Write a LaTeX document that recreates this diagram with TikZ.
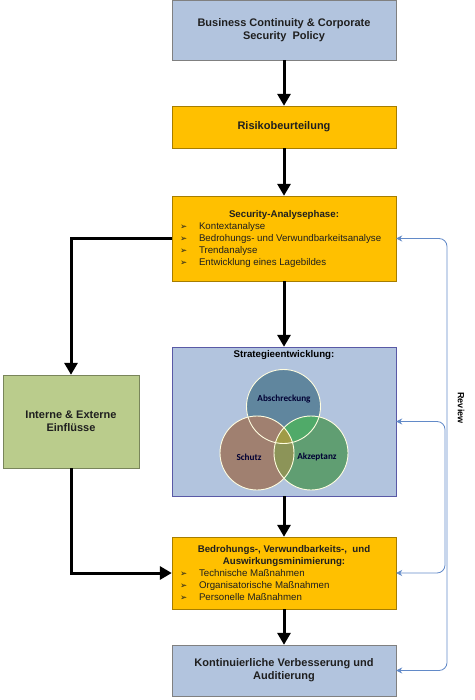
\documentclass[tikz,border=0pt]{standalone}
\usepackage{fontspec}
\setmainfont{Liberation Sans}
\newfontfamily\calfont{Carlito}
\newfontfamily\symfont{DejaVu Sans}
\usetikzlibrary{arrows.meta}
\definecolor{polblue}{RGB}{178,196,222}
\definecolor{riskorange}{RGB}{255,192,0}
\definecolor{inflgreen}{RGB}{186,204,140}
\definecolor{revblue}{RGB}{98,138,200}
\definecolor{abschr}{RGB}{96,134,158}
\definecolor{schutz}{RGB}{160,128,112}
\definecolor{akzept}{RGB}{96,158,114}
\definecolor{absakz}{RGB}{80,170,105}
\definecolor{schakz}{RGB}{140,148,88}
\definecolor{allthree}{RGB}{160,155,70}
\newcommand{\bul}{\makebox[19pt][l]{\symfont\fontsize{8.5}{8}\selectfont ➢}}

\begin{document}
\begin{tikzpicture}[x=1pt,y=-1pt,
    box/.style={minimum width=224pt, inner sep=0pt, align=center, text=black!88,
      font=\bfseries\fontsize{11}{13}\selectfont},
    bluebox/.style={box, fill=polblue, draw=gray},
    orangebox/.style={box, fill=riskorange, draw=riskorange!65!black},
    flow/.style={line width=3pt, -{Triangle[length=12pt,width=13pt]}},
    review/.style={revblue, line width=0.8pt, rounded corners=8pt,
      {Stealth[length=6pt,width=6pt]}-{Stealth[length=6pt,width=6pt]}},
    venntext/.style={font=\calfont\bfseries\fontsize{9.2}{10}\selectfont, text=black!80!blue}]
  \useasboundingbox (0,0) rectangle (474,700);
  % Policy and risk
  \node[bluebox, minimum height=60pt] (policy) at (284,30) {Business Continuity \& Corporate\\Security\ \ Policy};
  \node[orangebox, minimum height=42pt] (risk) at (284,127) {Risikobeurteilung};
  % Analyse phase
  \node[orangebox, minimum height=85pt] (analyse) at (284,238.5) {\begin{minipage}{208pt}\fontsize{9.7}{12}\selectfont
    \centering\textbf{Security-Analysephase:}\par\raggedright\mdseries
    \bul Kontextanalyse\\
    \bul Bedrohungs- und Verwundbarkeitsanalyse\\
    \bul Trendanalyse\\
    \bul Entwicklung eines Lagebildes\end{minipage}};
  % Strategy
  \node[bluebox, draw=gray!70!blue, minimum height=149pt] (strat) at (284,421.5) {};
  \node[font=\bfseries\fontsize{9.7}{12}\selectfont] (strattitle) at (284,355) {Strategieentwicklung:};
  \node[circle, fill=abschr, minimum size=74pt] (abs) at (283.5,406.5) {};
  \node[circle, fill=schutz, minimum size=74pt] (sch) at (257,453) {};
  \node[circle, fill=akzept, minimum size=74pt] (akz) at (311,453) {};
  \begin{scope}
    \clip (abs) circle (37pt);
    \fill[absakz] (akz) circle (37pt);
  \end{scope}
  \begin{scope}
    \clip (sch) circle (37pt);
    \fill[schakz] (akz) circle (37pt);
    \clip (abs) circle (37pt);
    \fill[allthree] (akz) circle (37pt);
  \end{scope}
  \foreach \c in {abs,sch,akz} {
    \draw[yellow!12, line width=0.9pt] (\c) circle (37pt);
  }
  \node[venntext] (absl) at (284,399) {Abschreckung};
  \node[venntext] (schl) at (249,457) {Schutz};
  \node[venntext] (akzl) at (317,457) {Akzeptanz};
  % Measures
  \node[orangebox, minimum height=72pt] (mini) at (284,573) {\begin{minipage}{208pt}\fontsize{9.7}{12}\selectfont
    \centering\textbf{Bedrohungs-, Verwundbarkeits-,\ \ und\\Auswirkungsminimierung:}\par\raggedright\mdseries
    \bul Technische Maßnahmen\\
    \bul Organisatorische Maßnahmen\\
    \bul Personelle Maßnahmen\end{minipage}};
  \node[bluebox, minimum height=51pt] (kont) at (284,670.5) {Kontinuierliche Verbesserung und\\Auditierung};
  % Influences
  \node[box, fill=inflgreen, draw=inflgreen!65!black, minimum width=136pt, minimum height=93pt] (einfl) at (71,421.5) {Interne \& Externe\\Einflüsse};
  % Main flow
  \draw[flow] (policy) -- (risk);
  \draw[flow] (risk) -- (analyse);
  \draw[flow] (analyse) -- (strat);
  \draw[flow] (strat) -- (mini);
  \draw[flow] (mini) -- (kont);
  \draw[flow] (analyse.west) -| (einfl.north);
  \draw[flow] (einfl.south) |- (mini.west);
  % Review
  \coordinate (revout) at (447,450);
  \coordinate (revin) at (445,500);
  \draw[review] (analyse.east) -| (revout) |- (kont.east);
  \draw[review] (strat.east) -| (revin) |- (mini.east);
  \node[font=\bfseries\fontsize{9}{9}\selectfont, rotate=-90] (revlabel) at (461,408) {Review};
\end{tikzpicture}
\end{document}
